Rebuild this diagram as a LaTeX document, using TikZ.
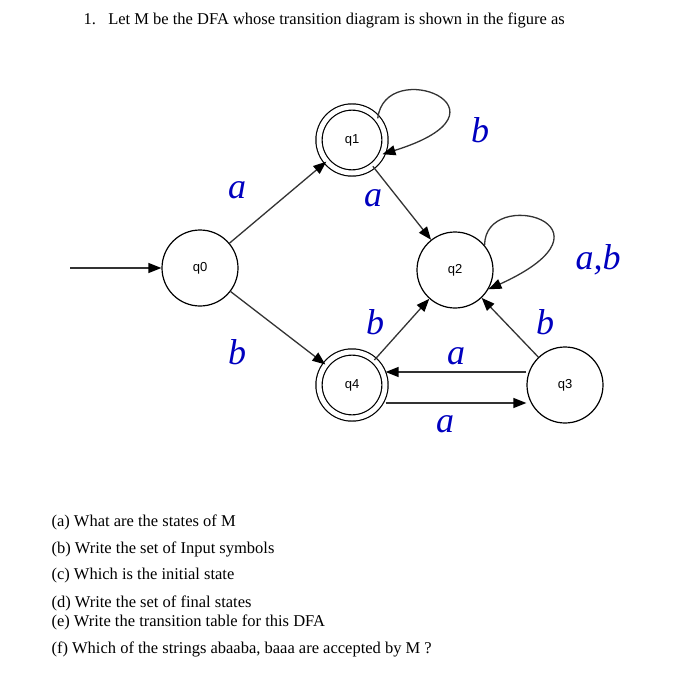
\documentclass[tikz,border=0pt]{standalone}
\usepackage{fontspec}
\setmainfont{Liberation Serif}
\newfontfamily\lab{Liberation Sans}
\usetikzlibrary{arrows.meta}
\begin{document}
\begin{tikzpicture}[x=1pt,y=-1pt,
  st/.style={circle,draw,line width=1.2pt,minimum size=76pt,inner sep=0pt,font=\lab\fontsize{13}{13}\selectfont},
  acc/.style={st,double,double distance=5pt,minimum size=66pt},
  ed/.style={draw,gray!40!black,line width=1.3pt,-{Triangle[length=13pt,width=10pt,black]}},
  lb/.style={text=blue!75!black,font=\itshape\fontsize{36}{36}\selectfont},
  q/.style={anchor=west,font=\fontsize{16.5}{19}\selectfont}]
\useasboundingbox (0,0) rectangle (700,695);
\node[anchor=west,font=\fontsize{16.5}{19}\selectfont] (t) at (80,20) {1.\ \ \ Let M be the DFA whose transition diagram is shown in the figure as};
\node[st] (q0) at (200,268) {q0};
\node[acc] (q1) at (352,140) {q1};
\node[st] (q2) at (455,270) {q2};
\node[acc] (q4) at (352,385) {q4};
\node[st] (q3) at (565,385) {q3};
\coordinate (s) at (70,268);
\draw[ed] (s) -- (q0);
\draw[ed] (q0) -- (q1);
\draw[ed] (q0) -- (q4);
\draw[ed] (q1) -- (q2);
\draw[ed] (q4) -- (q2);
\draw[ed] (q3) -- (q2);
\draw[ed] (q4.east |- 0,403) -- (q3.west |- 0,403);
\draw[ed] (q3.west |- 0,372) -- (q4.east |- 0,372);
\draw[ed] (q1.40) .. controls (385,55) and (525,110) .. (q1.-25);
\draw[ed] (q2.40) .. controls (485,185) and (630,225) .. (q2.-30);
\node[lb] (la1) at (237,190) {a};
\node[lb] (lb1) at (480,130) {b};
\node[lb] (la2) at (373,198) {a};
\node[lb] (lab) at (598,260) {a,b};
\node[lb] (lb2) at (545,322) {b};
\node[lb] (lb3) at (375,322) {b};
\node[lb] (lb4) at (237,352) {b};
\node[lb] (la3) at (456,356) {a};
\node[lb] (la4) at (445,424) {a};
\node[q] (a1) at (48,522) {(a) What are the states of M};
\node[q] (a2) at (48,549) {(b) Write the set of Input symbols};
\node[q] (a3) at (48,576) {(c) Which is the initial state};
\node[q] (a4) at (48,603) {(d) Write the set of final states};
\node[q] (a5) at (48,622) {(e) Write the transition table for this DFA};
\node[q] (a6) at (48,649) {(f) Which of the strings abaaba, baaa are accepted by M ?};
\end{tikzpicture}
\end{document}
